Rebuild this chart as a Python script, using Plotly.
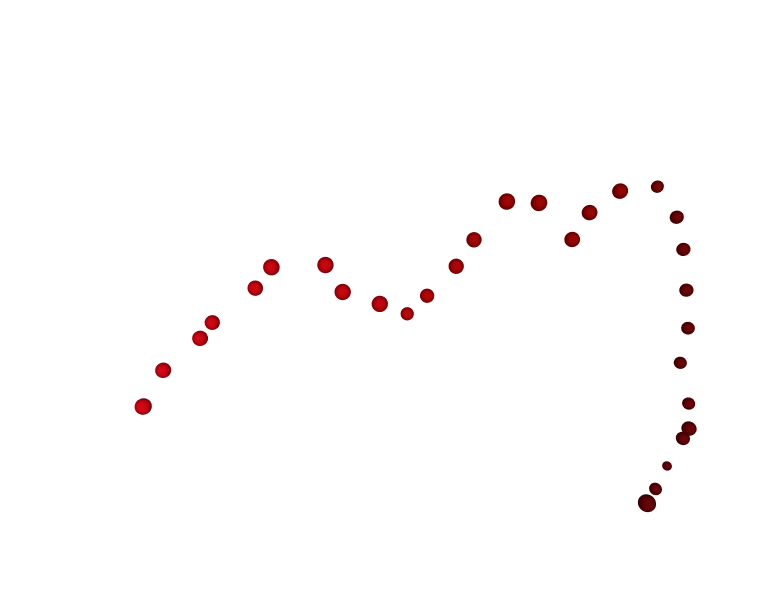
import numpy as np
import plotly.graph_objects as go

# Sphere centres (scene units) in path order
x_vals = [-0.546, -0.534, -0.445, -0.430, -0.312, -0.256, -0.134, -0.095, -0.011, 0.063,
          0.110, 0.173, 0.216, 0.277, 0.350, 0.454, 0.496, 0.570, 0.826, 0.817,
          0.836, 0.845, 0.884, 0.898, 0.924, 0.793, 0.837, 1.145, 0.824, 0.563]
y_vals = [-0.247, -0.176, -0.099, -0.063, 0.022, 0.068, 0.073, 0.012, -0.015, -0.046,
          0.004, 0.075, 0.139, 0.217, 0.214, 0.140, 0.205, 0.257, 0.335, 0.224,
          0.134, 0.020, -0.090, -0.199, -0.323, -0.342, -0.396, -0.684, -0.583, -0.442]
z_vals = [0.375, 0.267, 0.267, 0.207, 0.267, 0.375, 0.375, 0.375, 0.375, 0.0,
          0.143, 0.267, 0.267, 0.375, 0.375, 0.267, 0.267, 0.267, -0.167, 0.0,
          0.0, 0.0, -0.08, -0.167, -0.167, 0.143, 0.0, -0.889, -0.167, 0.471]
step = list(range(len(x_vals)))

R = 0.0185
nu, nv = 28, 16

X, Y, Z, C, I, J, K = [], [], [], [], [], [], []
u = np.linspace(0, 2 * np.pi, nu, endpoint=False)
v = np.linspace(0, np.pi, nv + 1)
for n, (cx, cy, cz, s) in enumerate(zip(x_vals, y_vals, z_vals, step)):
    base = len(X)
    for vv in v:
        for uu in u:
            X.append(cx + R * np.sin(vv) * np.cos(uu))
            Y.append(cy + R * np.cos(vv))
            Z.append(cz + R * np.sin(vv) * np.sin(uu))
            C.append(s)
    for a in range(nv):
        for b in range(nu):
            p0 = base + a * nu + b
            p1 = base + a * nu + (b + 1) % nu
            p2 = base + (a + 1) * nu + b
            p3 = base + (a + 1) * nu + (b + 1) % nu
            I += [p0, p1]
            J += [p2, p2]
            K += [p1, p3]

fig = go.Figure(go.Mesh3d(
    x=X, y=Y, z=Z, i=I, j=J, k=K,
    intensity=C,
    cmin=0, cmax=len(step) - 1,
    colorscale=[[0, '#cc0010'], [0.28, '#b80008'], [0.45, '#940000'],
                [0.59, '#880000'], [0.63, '#640000'], [1, '#5c0005']],
    showscale=False,
    flatshading=False,
    lighting=dict(ambient=0.5, diffuse=0.55, specular=0.08, roughness=0.5, fresnel=0.02),
    lightposition=dict(x=0, y=0, z=100000),
    hoverinfo='skip',
))

ax = dict(visible=False, showbackground=False, range=[-1.5, 1.5], autorange=False)
fig.update_layout(
    width=768, height=594,
    margin=dict(l=0, r=0, t=0, b=0),
    paper_bgcolor='white',
    scene=dict(
        xaxis=ax, yaxis=ax, zaxis=ax,
        aspectmode='manual', aspectratio=dict(x=3, y=3, z=3),
        camera=dict(eye=dict(x=0, y=0, z=2), up=dict(x=0, y=1, z=0),
                    center=dict(x=0.0205, y=-0.0215, z=0),
                    projection=dict(type='perspective')),
        bgcolor='white',
    ),
    showlegend=False,
)
fig.write_html("out.html")
